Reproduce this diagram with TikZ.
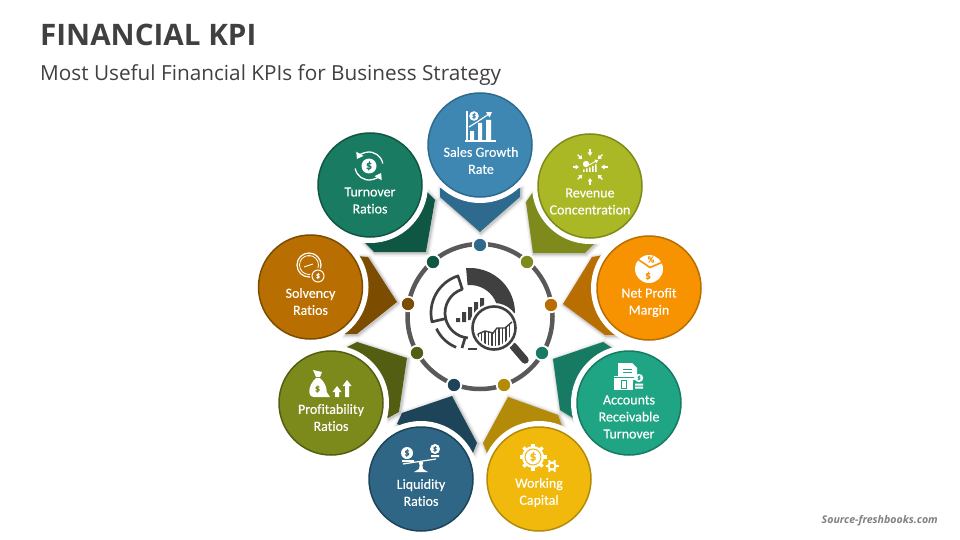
\documentclass[tikz,border=0pt]{standalone}
\usepackage{fontspec}
\setmainfont{Open Sans}
\newfontfamily\bubblefont[Ligatures=CommonOff, FakeBold=0.2]{Carlito}
\usetikzlibrary{arrows.meta, positioning}

\definecolor{salesfill}{HTML}{3F87B3}
\definecolor{salesdark}{HTML}{2E6A8E}
\definecolor{revfill}{HTML}{A9B824}
\definecolor{revdark}{HTML}{7E8A1B}
\definecolor{netfill}{HTML}{F79200}
\definecolor{netdark}{HTML}{B86E00}
\definecolor{accfill}{HTML}{1FA584}
\definecolor{accdark}{HTML}{167B62}
\definecolor{workfill}{HTML}{F0B90B}
\definecolor{workdark}{HTML}{B38B08}
\definecolor{liqfill}{HTML}{2F6685}
\definecolor{liqdark}{HTML}{1E4459}
\definecolor{proffill}{HTML}{7C8A1C}
\definecolor{profdark}{HTML}{535E12}
\definecolor{solvfill}{HTML}{B86E00}
\definecolor{solvdark}{HTML}{7C4D00}
\definecolor{turnfill}{HTML}{197B62}
\definecolor{turndark}{HTML}{0F5742}
\definecolor{inkdark}{HTML}{404040}

\begin{document}
\begin{tikzpicture}[
		x=1pt, y=-1pt,
		bubble/.style={circle, minimum size=104pt, inner sep=0pt, outer sep=0pt, line width=1.5pt, preaction={draw=white, line width=12pt}},
		bubbletext/.style={text=white, align=center, font={\bubblefont\fontsize{14}{17}\selectfont}},
		pointer/.style={line join=round,
			preaction={draw=black, opacity=.05, line width=7pt, transform canvas={xshift=1pt, yshift=-1pt}},
			preaction={draw=black, opacity=.07, line width=4pt, transform canvas={xshift=1pt, yshift=-1pt}},
			preaction={draw=black, opacity=.10, line width=2pt, transform canvas={xshift=1pt, yshift=-1pt}}},
		ringdot/.style={circle, minimum size=14.5pt, inner sep=0pt, outer sep=0pt, draw=white, line width=1.8pt},
		dollar/.style={inner sep=0pt, font={\bubblefont\bfseries\fontsize{10}{10}\selectfont}},
		iconline/.style={draw=white, line width=1.2pt},
		inkline/.style={draw=inkdark, line width=2.7pt}
		]
		\useasboundingbox (0,0) rectangle (960,540);
		
		% Titles
		\node[anchor=west, inner sep=0pt, text=inkdark, font={\bfseries\fontsize{29.6}{36}\selectfont}] (title) at (40,35) {FINANCIAL KPI};
		\node[anchor=west, inner sep=0pt, text=inkdark, font={\fontsize{20.75}{24}\selectfont}] (subtitle) at (40,75.5) {Most Useful Financial KPIs for Business Strategy};
		\node[anchor=east, inner sep=0pt, text=gray, font={\bfseries\itshape\fontsize{10.6}{12}\selectfont}] (source) at (938,521) {Source-freshbooks.com};
		
		% Pointers
		\fill[pointer, salesdark] (440,188) -- (440,197) -- (480,232) -- (520,197) -- (520,188) -- cycle;
		\fill[pointer, revdark] (533,192) -- (526,202) -- (533,253) -- (585,253) -- (594,244) -- cycle;
		\fill[pointer, netdark] (563,304) -- (592,257) -- (604,255) -- (618,335) -- (605,335) -- cycle;
		\fill[pointer, accdark] (553,359) -- (603,342) -- (615,350) -- (573,418) -- (560,410) -- cycle;
		\fill[pointer, workdark] (508,397) -- (558,415) -- (562,426) -- (487,453) -- (483,443) -- cycle;
		\fill[pointer, liqdark] (452,396) -- (402,413) -- (397,424) -- (473,453) -- (477,443) -- cycle;
		\fill[pointer, profdark] (407,358) -- (357,342) -- (345,348) -- (388,418) -- (399,412) -- cycle;
		\fill[pointer, solvdark] (397,302) -- (368,257) -- (356,256) -- (345,334) -- (357,334) -- cycle;
		\fill[pointer, turndark] (427,192) -- (435,200) -- (426,252) -- (374,252) -- (365,243) -- cycle;
		
		% Ring
		\node[circle, draw=black!65, line width=4.5pt, minimum size=145pt, inner sep=0pt] (ring) at (480,316.5) {};
		\node[ringdot, fill=salesdark] (dotsales) at (480,245) {};
		\node[ringdot, fill=revdark] (dotrev) at (527,262) {};
		\node[ringdot, fill=netdark] (dotnet) at (551,305) {};
		\node[ringdot, fill=accdark] (dotacc) at (542,353) {};
		\node[ringdot, fill=workdark] (dotwork) at (504,385) {};
		\node[ringdot, fill=liqdark] (dotliq) at (454,385) {};
		\node[ringdot, fill=profdark] (dotprof) at (417,353) {};
		\node[ringdot, fill=solvdark] (dotsolv) at (408,304) {};
		\node[ringdot, fill=turndark] (dotturn) at (433,262) {};
		
		% Centre icon
		\begin{scope}[shift={(470,313)}]
			\fill[inkdark] (-95:45) arc (-95:0:45) -- (0:28) arc (0:-95:28) -- cycle;
			\draw[inkline, line join=round] (-108:39) arc (-108:-193:39) -- (-193:25) arc (-193:-108:25) -- cycle;
			\draw[inkline] (155:37) arc (155:112:37);
			\draw[inkline] (167:25) arc (167:95:25);
		\end{scope}
		\draw[inkline] (465,338) -- (462,348);
		\draw[inkline] (468,349) -- (477,349);
		\fill[inkdark] (456,318) rectangle (460,322) (462,312) rectangle (466,322) (468,307) rectangle (472,320) (474,302) rectangle (478,315) (480,298) rectangle (484,310);
		\draw[inkdark, line width=7.5pt, line cap=round] (513,346) -- (525,360);
		\fill[white] (494,328) circle (25);
		\draw[inkdark, line width=2.6pt] (494,328) circle (21.5);
		\begin{scope}
			\clip (494,328) circle (18);
			\clip (476,335) -- (485,331) -- (493,333) -- (497,328) -- (505,328) -- (514,321) -- (514,350) -- (476,350) -- cycle;
			\foreach \hx in {478,481.5,...,512} \draw[inkdark, line width=1.5pt] (\hx,318) -- (\hx,350);
		\end{scope}
		\draw[inkdark, line width=1.4pt] (478,334) -- (485,331) -- (493,333) -- (497,328) -- (505,328) -- (512,322);
		
		% Bubbles
		\node[bubble, fill=salesfill, draw=salesdark] (sales) at (480,145) {};
		\node[bubble, fill=revfill, draw=revdark] (rev) at (590,186) {};
		\node[bubble, fill=netfill, draw=netdark] (net) at (649,288) {};
		\node[bubble, fill=accfill, draw=accdark] (acc) at (629,403) {};
		\node[bubble, fill=workfill, draw=workdark] (work) at (539,479) {};
		\node[bubble, fill=liqfill, draw=liqdark] (liq) at (421,479) {};
		\node[bubble, fill=proffill, draw=profdark] (prof) at (331,403) {};
		\node[bubble, fill=solvfill, draw=solvdark] (solv) at (310.5,287) {};
		\node[bubble, fill=turnfill, draw=turndark] (turn) at (370,185) {};
		
		% Bubble labels
		\node[bubbletext] (salestext) at (481,160.5) {Sales Growth\\Rate};
		\node[bubbletext] (revtext) at (590,201.5) {Revenue\\Concentration};
		\node[bubbletext] (nettext) at (649,302.5) {Net Profit\\Margin};
		\node[bubbletext] (acctext) at (629,417) {Accounts\\Receivable\\Turnover};
		\node[bubbletext] (worktext) at (539,492.5) {Working\\Capital};
		\node[bubbletext] (liqtext) at (421,492.5) {Liquidity\\Ratios};
		\node[bubbletext] (proftext) at (331,417.5) {Profitability\\Ratios};
		\node[bubbletext] (solvtext) at (310.5,301.5) {Solvency\\Ratios};
		\node[bubbletext] (turntext) at (370,200.5) {Turnover\\Ratios};
		
		% Sales icon
		\draw[iconline] (467,111) -- (467,142) (465,141) -- (496,141);
		\fill[white] (470,131) rectangle (474,140) (478,123) rectangle (482,140) (486,120) rectangle (491,140);
		\draw[iconline, -{Triangle[width=6pt,length=5pt]}] (469,127) -- (477,122) -- (483,118) -- (492,112);
		\fill[white] (474,116) circle (4.8);
		\node[dollar, text=salesfill, font={\bubblefont\bfseries\fontsize{8}{8}\selectfont}] (salescoin) at (474,116) {\$};
		
		% Revenue icon
		\foreach \ang in {0,45,...,315}
			\draw[white, line width=1.1pt, -{Triangle[width=4.5pt,length=3.5pt]}] ([shift={(\ang:17.5)}]590,167) -- ([shift={(\ang:11)}]590,167);
		\fill[white] (586,164) circle (3.2);
		\fill[white] (583,169.5) rectangle (584.5,172) (586,168.5) rectangle (587.5,172) (589,167.5) rectangle (590.5,172) (592,166) rectangle (593.5,172) (595,164.5) rectangle (596.5,172);
		\draw[white, line width=.9pt, -{Triangle[width=4pt,length=3pt]}] (589,165) -- (598,160);
		
		% Net profit icon
		\fill[white] (649,269) circle (14);
		\draw[netfill, line width=1.6pt] (636,258) -- (650,267.5) -- (665,261);
		\node[dollar, text=netfill, font={\bubblefont\bfseries\fontsize{9}{9}\selectfont}] (netpct) at (651,259.5) {\%};
		\node[dollar, text=netfill, font={\bubblefont\bfseries\fontsize{11}{11}\selectfont}] (netusd) at (648,276) {\$};
		
		% Accounts icon
		\fill[white] (618,363) -- (632,363) -- (637,368) -- (637,380) -- (618,380) -- cycle;
		\draw[accfill, line width=.8pt] (623,369) -- (632,369) (623,372) -- (632,372);
		\fill[white] (614,376) rectangle (633,390);
		\draw[accfill, line width=.7pt] (613,377) -- (634,377);
		\draw[accfill, line width=.7pt] (621,380) -- (626,380) -- (626,388) -- (621,388) -- cycle;
		\fill[white] (639,378) circle (4.2);
		\node[dollar, text=accfill, font={\bubblefont\bfseries\fontsize{6.5}{6.5}\selectfont}] (acccoin) at (639,378) {\$};
		\fill[white] (635,383.5) rectangle (643,385.5) (635,386.5) rectangle (643,388.5);
		
		% Working capital icon
		\foreach \ang in {0,45,...,315} \draw[white, line width=3.4pt] ([shift={(\ang:8)}]533,457) -- ([shift={(\ang:13.5)}]533,457);
		\fill[white] (533,457) circle (11);
		\draw[workfill, line width=1pt] (533,457) circle (8);
		\node[dollar, text=workfill, font={\bubblefont\bfseries\fontsize{13}{13}\selectfont}] (workusd) at (533,457) {\$};
		\foreach \ang in {0,60,...,300} \draw[white, line width=2pt] ([shift={(\ang:4)}]552,466) -- ([shift={(\ang:6.5)}]552,466);
		\draw[white, line width=2pt] (552,466) circle (3.6);
		
		% Liquidity icon
		\fill[white] (407,453) circle (6);
		\node[dollar, text=liqfill] (liqleft) at (407,453) {\$};
		\fill[white] (435,449) circle (5);
		\node[dollar, text=liqfill, font={\bubblefont\bfseries\fontsize{8}{8}\selectfont}] (liqright) at (435,449) {\$};
		\draw[white, line width=1.2pt] (403,464) -- (436,459);
		\fill[white] (402,460) rectangle (414,462) (431,455) rectangle (439,457);
		\fill[white] (421,463) circle (2.2);
		\fill[white] (420,463) -- (422,463) -- (423,469) -- (428,472) -- (414,472) -- (419,469) -- cycle;
		
		% Profitability icon
		\fill[white] (313,370) -- (322,372) -- (320,377) -- (316,377) -- cycle;
		\fill[white] (316,378) .. controls (308,385) and (307,397) .. (314,397) -- (322,397) .. controls (329,397) and (328,385) .. (320,378) -- cycle;
		\node[dollar, text=proffill] (profusd) at (317.5,389) {\$};
		\fill[white] (322,397) -- (326,391) -- (330,397) -- cycle;
		\fill[white] (335,397) rectangle (339,391) (332.5,392) -- (337,386) -- (341.5,392) -- cycle;
		\fill[white] (345,397) rectangle (349,385) (342.5,386) -- (347,380) -- (351.5,386) -- cycle;
		
		% Solvency icon
		\draw[white, line width=1.2pt] (309,265) circle (12);
		\draw[white, line width=.8pt] (309,265) circle (9.5);
		\draw[white, line width=.9pt] (304,267) -- (313,264) (309,255) -- (309,257);
		\fill[solvfill] (318,276) circle (8);
		\draw[white, line width=1pt] (318,276) circle (6);
		\node[dollar, text=white, font={\bubblefont\bfseries\fontsize{8}{8}\selectfont}] (solvcoin) at (318,276) {\$};
		
		% Turnover icon
		\fill[white] (369,166) circle (7.5);
		\node[dollar, text=turnfill, font={\bubblefont\bfseries\fontsize{12}{12}\selectfont}] (turnusd) at (369,166) {\$};
		\draw[white, line width=1.3pt, -{Triangle[width=8pt,length=6pt]}] ([shift={(-10:14)}]369,166) arc (-10:-150:14);
		\draw[white, line width=1.3pt, -{Triangle[width=8pt,length=6pt]}] ([shift={(170:14)}]369,166) arc (170:30:14);
		
	\end{tikzpicture}
\end{document}
